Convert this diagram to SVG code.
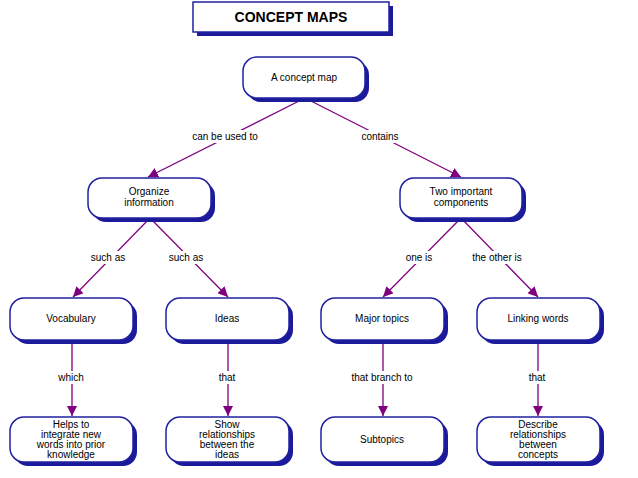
<svg xmlns="http://www.w3.org/2000/svg" width="638" height="478" viewBox="0 0 638 478">
<style>
.n{fill:#fff;stroke:#2020a0;stroke-width:1.5}
.s{fill:#1a1a9a}
.t{font-family:"Liberation Sans",Arial,sans-serif;font-size:10px;text-anchor:middle;fill:#000}
.c{stroke:#800080;stroke-width:1.3;fill:none;marker-end:url(#a)}
.l{font-family:"Liberation Sans",Arial,sans-serif;font-size:10px;text-anchor:middle;fill:#000}
.bg{fill:#fff}
</style>
<defs>
<marker id="a" viewBox="0 0 10 10" refX="10" refY="5" markerWidth="10" markerHeight="10" markerUnits="userSpaceOnUse" orient="auto"><path d="M0,0L10,5L0,10z" fill="#800080"/></marker>
</defs>
<rect width="638" height="478" fill="#fff"/>
<g id="title">
<rect x="197" y="6" width="196" height="30" class="s"/>
<rect x="193" y="2" width="196" height="30" class="n"/>
<text x="291" y="22" style="font-family:'Liberation Sans',Arial,sans-serif;font-weight:bold;font-size:14px;text-anchor:middle">CONCEPT MAPS</text>
</g>
<g id="connectors">
<line x1="305" y1="98" x2="148" y2="177" class="c"/>
<line x1="305" y1="98" x2="461" y2="177" class="c"/>
<line x1="150" y1="218" x2="73" y2="297" class="c"/>
<line x1="150" y1="218" x2="228" y2="297" class="c"/>
<line x1="461" y1="218" x2="383" y2="297" class="c"/>
<line x1="461" y1="218" x2="538" y2="297" class="c"/>
<line x1="72" y1="341" x2="72" y2="416" class="c"/>
<line x1="228" y1="341" x2="228" y2="416" class="c"/>
<line x1="383" y1="341" x2="383" y2="416" class="c"/>
<line x1="538" y1="341" x2="538" y2="416" class="c"/>
<rect x="176" y="130" width="98" height="13" class="bg"/><text x="225" y="140" class="l">can be used to</text>
<rect x="352" y="130" width="56" height="13" class="bg"/><text x="380" y="140" class="l">contains</text>
<rect x="82" y="251" width="52" height="13" class="bg"/><text x="108" y="261" class="l">such as</text>
<rect x="160" y="251" width="52" height="13" class="bg"/><text x="186" y="261" class="l">such as</text>
<rect x="398" y="251" width="42" height="13" class="bg"/><text x="419" y="261" class="l">one is</text>
<rect x="460" y="251" width="74" height="13" class="bg"/><text x="497" y="261" class="l">the other is</text>
<rect x="50" y="371" width="44" height="13" class="bg"/><text x="71" y="381" class="l">which</text>
<rect x="212" y="371" width="32" height="13" class="bg"/><text x="227" y="381" class="l">that</text>
<rect x="336" y="371" width="94" height="13" class="bg"/><text x="382" y="381" class="l">that branch to</text>
<rect x="522" y="371" width="32" height="13" class="bg"/><text x="537" y="381" class="l">that</text>
</g>
<g id="root"><rect x="247" y="61" width="122" height="41" rx="14" class="s"/><rect x="243" y="57" width="122" height="41" rx="14" class="n"/><text x="304" y="81" class="t">A concept map</text></g>
<g id="organize"><rect x="92" y="182" width="123" height="40" rx="14" class="s"/><rect x="88" y="178" width="123" height="40" rx="14" class="n"/><text x="149" y="195" class="t">Organize</text><text x="149" y="206" class="t">information</text></g>
<g id="two"><rect x="404" y="182" width="122" height="40" rx="14" class="s"/><rect x="400" y="178" width="122" height="40" rx="14" class="n"/><text x="461" y="195" class="t">Two important</text><text x="461" y="206" class="t">components</text></g>
<g id="vocab"><rect x="14" y="302" width="123" height="42" rx="14" class="s"/><rect x="10" y="298" width="123" height="42" rx="14" class="n"/><text x="71" y="322" class="t">Vocabulary</text></g>
<g id="ideas"><rect x="170" y="302" width="123" height="42" rx="14" class="s"/><rect x="166" y="298" width="123" height="42" rx="14" class="n"/><text x="227" y="322" class="t">Ideas</text></g>
<g id="major"><rect x="325" y="302" width="123" height="42" rx="14" class="s"/><rect x="321" y="298" width="123" height="42" rx="14" class="n"/><text x="382" y="322" class="t">Major topics</text></g>
<g id="linking"><rect x="481" y="302" width="123" height="42" rx="14" class="s"/><rect x="477" y="298" width="123" height="42" rx="14" class="n"/><text x="538" y="322" class="t">Linking words</text></g>
<g id="helps"><rect x="14" y="421" width="123" height="45" rx="14" class="s"/><rect x="10" y="417" width="123" height="45" rx="14" class="n"/><text x="71" y="428" class="t">Helps to</text><text x="71" y="438" class="t">integrate new</text><text x="71" y="448" class="t">words into prior</text><text x="71" y="458" class="t">knowledge</text></g>
<g id="show"><rect x="170" y="421" width="123" height="45" rx="14" class="s"/><rect x="166" y="417" width="123" height="45" rx="14" class="n"/><text x="227" y="428" class="t">Show</text><text x="227" y="438" class="t">relationships</text><text x="227" y="448" class="t">between the</text><text x="227" y="458" class="t">ideas</text></g>
<g id="subtopics"><rect x="325" y="421" width="123" height="45" rx="14" class="s"/><rect x="321" y="417" width="123" height="45" rx="14" class="n"/><text x="382" y="443" class="t">Subtopics</text></g>
<g id="describe"><rect x="481" y="421" width="123" height="45" rx="14" class="s"/><rect x="477" y="417" width="123" height="45" rx="14" class="n"/><text x="538" y="428" class="t">Describe</text><text x="538" y="438" class="t">relationships</text><text x="538" y="448" class="t">between</text><text x="538" y="458" class="t">concepts</text></g>
</svg>
